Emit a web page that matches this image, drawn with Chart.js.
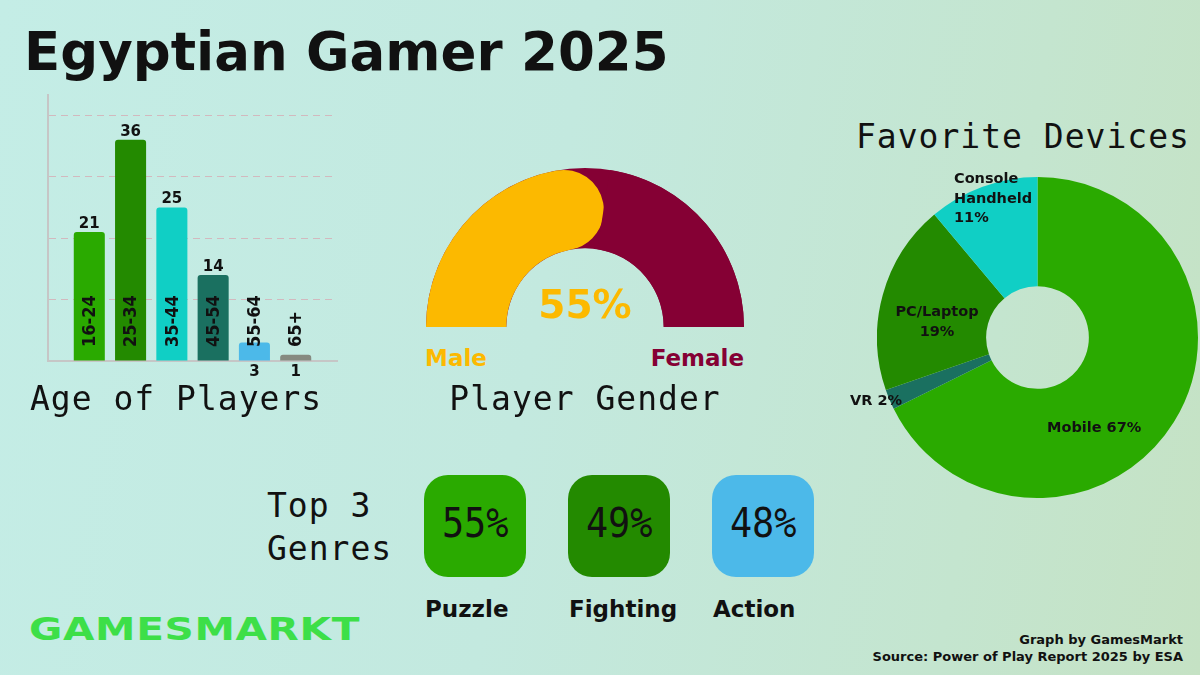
<!DOCTYPE html>
<html><head><meta charset="utf-8">
<script src="https://cdn.jsdelivr.net/npm/chart.js@4/dist/chart.umd.min.js"></script>
<style>
html,body{margin:0;padding:0;}
body{width:1200px;height:675px;position:relative;overflow:hidden;
  background:linear-gradient(100deg,#c4ede6 0%,#c3e9df 45%,#c4e5cf 80%,#c5e2c4 100%);}
.t{position:absolute;white-space:nowrap;line-height:1;color:#111;font-family:"DejaVu Sans",sans-serif;font-weight:bold;}
.mono{position:absolute;white-space:nowrap;line-height:1;color:#111;font-family:"DejaVu Sans Mono",monospace;font-size:33px;letter-spacing:1px;}
canvas{position:absolute;}
.box{position:absolute;width:102px;height:102px;border-radius:24px;display:flex;align-items:center;justify-content:center;
  font-family:"DejaVu Sans Mono",monospace;font-size:40px;color:#111;}
</style></head><body>
<div class="t" style="left:24px;top:25px;font-size:53px;">Egyptian Gamer 2025</div>

<canvas id="age" width="305" height="296" style="left:40px;top:85px;"></canvas>
<div class="mono" style="left:30px;top:382px;">Age of Players</div>

<canvas id="gender" width="318" height="159" style="left:426px;top:168px;"></canvas>
<div id="gPct" class="t" style="left:485px;width:200px;text-align:center;top:285px;font-size:39px;color:#fcb900;"></div>
<div id="gMale" class="t" style="left:425px;top:347px;font-size:23px;color:#fcb900;"></div>
<div id="gFemale" class="t" style="right:456px;top:347px;font-size:23px;color:#850034;"></div>
<div class="mono" style="left:385px;width:400px;text-align:center;top:382px;">Player Gender</div>

<div class="mono" style="left:856px;top:120px;">Favorite Devices</div>
<canvas id="devices" width="321" height="321" style="left:877px;top:177px;"></canvas>
<div id="devLabels"></div>

<div class="mono" style="left:267px;top:489px;">Top 3</div>
<div class="mono" style="left:267px;top:532px;">Genres</div>
<div id="genres"></div>

<div class="t" style="left:29px;top:613px;font-size:32px;color:#3ddf48;letter-spacing:0.5px;transform:scaleX(1.27);transform-origin:left top;">GAMESMARKT</div>
<div class="t" style="right:17px;top:633px;font-size:13px;text-align:right;">Graph by GamesMarkt</div>
<div class="t" style="right:17px;top:650px;font-size:13px;text-align:right;">Source: Power of Play Report 2025 by ESA</div>

<script>
// ---------- data ----------
const ageLabels = ['16-24','25-34','35-44','45-54','55-64','65+'];
const ageValues = [21, 36, 25, 14, 3, 1];
const ageColors = ['#2aaa00','#238a00','#10cfc5','#1a7060','#4cb9e9','#868a80'];

const genderLabels = ['Male','Female'];
const genderValues = [55, 45];
const genderColors = ['#fcb900','#850034'];

const deviceLabels = ['Mobile','VR','PC/Laptop','Console Handheld'];
const deviceValues = [67, 2, 19, 11];
const deviceColors = ['#2aaa00','#1a7060','#238a00','#10cfc5'];

const genreLabels = ['Puzzle','Fighting','Action'];
const genreValues = [55, 49, 48];
const genreColors = ['#2aaa00','#238a00','#4cb9e9'];

const yTicks = [10, 20, 30, 40];

// ---------- age bar chart ----------
const padLabels = [''].concat(ageLabels, ['']);
const padValues = [null].concat(ageValues, [null]);
const padColors = ['rgba(0,0,0,0)'].concat(ageColors, ['rgba(0,0,0,0)']);

const barLabelPlugin = {
  id: 'barLabels',
  afterDatasetsDraw(chart) {
    const ctx = chart.ctx;
    const meta = chart.getDatasetMeta(0);
    const base = chart.scales.y.getPixelForValue(0);
    const ds = chart.data.datasets[0];
    meta.data.forEach((bar, i) => {
      const v = ds.data[i];
      if (v == null) return;
      ctx.save();
      ctx.fillStyle = '#111';
      ctx.textAlign = 'center';
      ctx.textBaseline = 'alphabetic';
      ctx.font = 'bold 15px "DejaVu Sans"';
      if (v >= 10) ctx.fillText(String(v), bar.x, bar.y - 4);
      else ctx.fillText(String(v), bar.x, base + 15);
      ctx.translate(bar.x + 1, base - 14);
      ctx.rotate(-Math.PI / 2);
      ctx.textAlign = 'left';
      ctx.textBaseline = 'middle';
      ctx.font = 'bold 18px "DejaVu Sans Condensed", "DejaVu Sans"';
      ctx.fillText(chart.data.labels[i], 0, 0);
      ctx.restore();
    });
  }
};

new Chart(document.getElementById('age'), {
  type: 'bar',
  data: { labels: padLabels, datasets: [{ data: padValues, backgroundColor: padColors,
    borderRadius: 3, barPercentage: 0.94, categoryPercentage: 0.8 }] },
  options: {
    responsive: false, animation: false, devicePixelRatio: 1, events: [],
    layout: { padding: { left: 8, right: 8, top: 10, bottom: 20 } },
    plugins: { legend: { display: false }, tooltip: { enabled: false } },
    scales: {
      x: { offset: false, ticks: { display: false }, grid: { display: false, drawTicks: false },
           border: { display: true, color: '#c6c6c6', width: 2 } },
      y: { min: 0, max: 43.3, ticks: { display: false, stepSize: 10 },
           afterBuildTicks: (s) => { s.ticks = [{value:0}].concat(yTicks.map(v => ({value: v}))); },
           grid: { drawTicks: false, lineWidth: 1,
                   color: (c) => (c.tick && c.tick.value > 0) ? '#d2b9be' : 'rgba(0,0,0,0)' },
           border: { display: true, color: '#c6c6c6', width: 2, dash: [7, 5] } }
    }
  },
  plugins: [barLabelPlugin]
});

// ---------- gender gauge ----------
const gaugeBackPlugin = {
  id: 'gaugeBack',
  beforeDatasetsDraw(chart) {
    const el = chart.getDatasetMeta(0).data[1];
    if (!el) return;
    const ctx = chart.ctx;
    ctx.save();
    ctx.beginPath();
    ctx.arc(el.x, el.y, el.outerRadius, Math.PI, 2 * Math.PI);
    ctx.arc(el.x, el.y, el.innerRadius, 2 * Math.PI, Math.PI, true);
    ctx.closePath();
    ctx.fillStyle = genderColors[1];
    ctx.fill();
    ctx.restore();
  }
};
new Chart(document.getElementById('gender'), {
  type: 'doughnut',
  data: { labels: genderLabels, datasets: [{ data: genderValues, backgroundColor: genderColors, borderWidth: 0,
    borderRadius: [{ outerStart: 0, innerStart: 0, outerEnd: 40, innerEnd: 40 }, 0] }] },
  options: {
    responsive: false, animation: false, devicePixelRatio: 1, events: [],
    rotation: -90, circumference: 180, cutout: '49.5%',
    plugins: { legend: { display: false }, tooltip: { enabled: false } }
  },
  plugins: [gaugeBackPlugin]
});
document.getElementById('gPct').textContent = genderValues[0] + '%';
document.getElementById('gMale').textContent = genderLabels[0];
document.getElementById('gFemale').textContent = genderLabels[1];

// ---------- devices donut ----------
new Chart(document.getElementById('devices'), {
  type: 'doughnut',
  data: { labels: deviceLabels, datasets: [{ data: deviceValues, backgroundColor: deviceColors, borderWidth: 0 }] },
  options: {
    responsive: false, animation: false, devicePixelRatio: 1, events: [],
    cutout: '32%',
    plugins: { legend: { display: false }, tooltip: { enabled: false } }
  }
});
const dl = document.getElementById('devLabels');
function addLabel(html, style) {
  const d = document.createElement('div');
  d.className = 't';
  d.innerHTML = html;
  d.setAttribute('style', 'font-size:14.5px;' + style);
  dl.appendChild(d);
}
addLabel(deviceLabels[3].split(' ').join('<br>') + '<br>' + deviceValues[3] + '%', 'left:954px;top:169px;line-height:19.5px;');
addLabel(deviceLabels[2] + '<br>' + deviceValues[2] + '%', 'left:877px;width:120px;text-align:center;top:302px;line-height:19.5px;');
addLabel(deviceLabels[1] + ' ' + deviceValues[1] + '%', 'left:850px;top:393px;');
addLabel(deviceLabels[0] + ' ' + deviceValues[0] + '%', 'left:1047px;top:420px;');

// ---------- genres ----------
const g = document.getElementById('genres');
genreLabels.forEach((lbl, i) => {
  const left = 424 + i * 144;
  const b = document.createElement('div');
  b.className = 'box';
  b.style.left = left + 'px'; b.style.top = '475px';
  b.style.background = genreColors[i];
  b.innerHTML = '<span style="position:relative;top:-3px;display:inline-block;transform:scaleX(0.92);">' + genreValues[i] + '%</span>';
  g.appendChild(b);
  const t = document.createElement('div');
  t.className = 't';
  t.style.left = (left + 1) + 'px'; t.style.top = '598px'; t.style.fontSize = '23px';
  t.textContent = lbl;
  g.appendChild(t);
});
</script>
</body></html>
